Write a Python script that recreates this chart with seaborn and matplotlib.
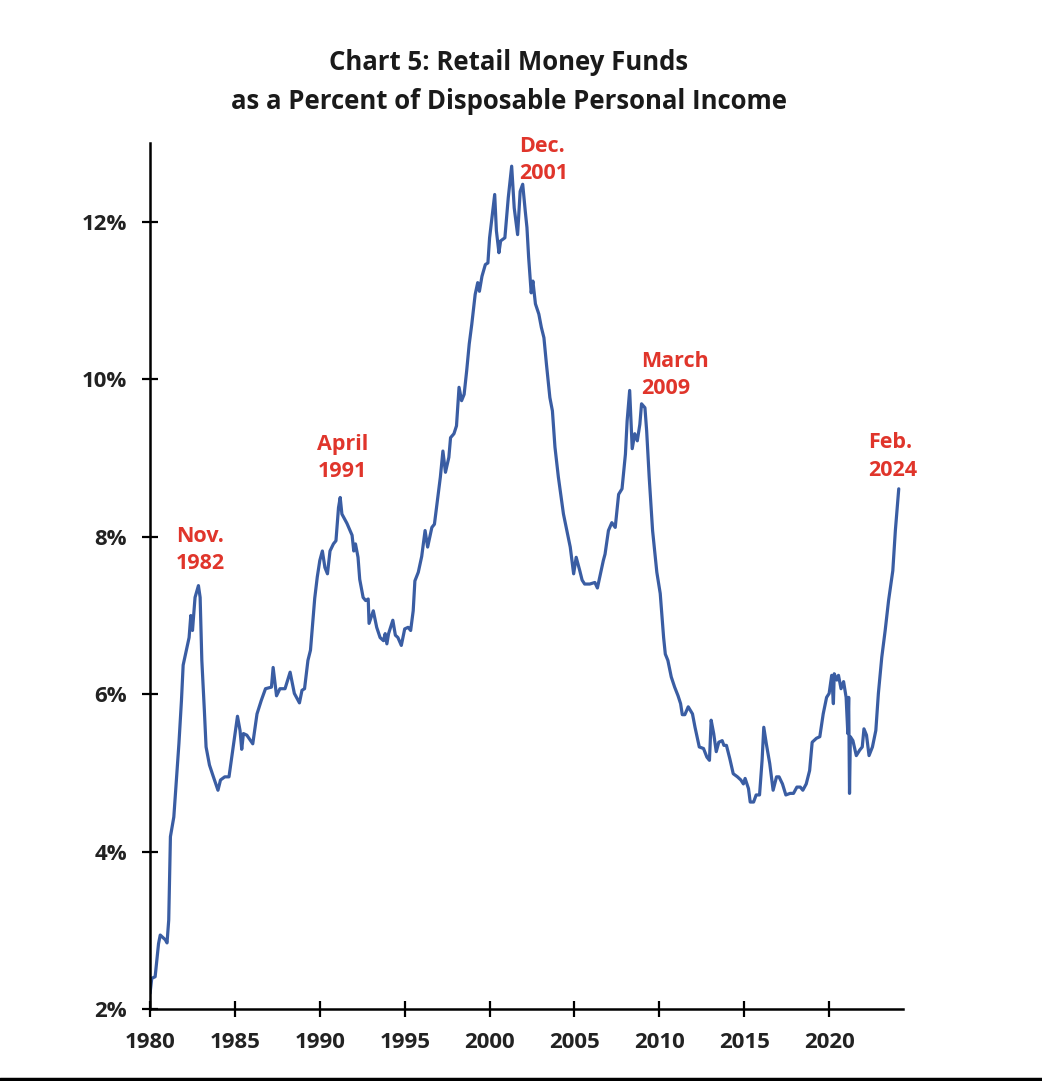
import pandas as pd
import matplotlib
matplotlib.use('Agg')
import matplotlib.pyplot as plt
import seaborn as sns
from matplotlib.lines import Line2D

# values (decimal year, % of disposable personal income)
years = [
    1980.0, 1980.1, 1980.3, 1980.5, 1980.6, 1980.9, 1981.0, 1981.1, 1981.2, 1981.4,
    1981.7, 1981.85, 1981.95, 1982.1, 1982.3, 1982.4, 1982.5, 1982.65, 1982.85, 1982.95,
    1983.05, 1983.2, 1983.3, 1983.5, 1983.7, 1984.0, 1984.15, 1984.4, 1984.65, 1984.9,
    1985.15, 1985.3, 1985.4, 1985.5, 1985.7, 1986.05, 1986.3, 1986.55, 1986.8, 1987.15,
    1987.25, 1987.45, 1987.65, 1987.95, 1988.25, 1988.5, 1988.8, 1988.95, 1989.1, 1989.3,
    1989.45, 1989.7, 1989.85, 1990.0, 1990.15, 1990.3, 1990.45, 1990.6, 1990.8, 1990.95,
    1991.1, 1991.2, 1991.3, 1991.6, 1991.9, 1992.0, 1992.1, 1992.25, 1992.35, 1992.55,
    1992.7, 1992.85, 1992.9, 1993.15, 1993.35, 1993.55, 1993.75, 1993.85, 1993.95, 1994.05,
    1994.3, 1994.45, 1994.6, 1994.8, 1995.0, 1995.2, 1995.35, 1995.5, 1995.6, 1995.8,
    1996.0, 1996.2, 1996.35, 1996.6, 1996.75, 1996.9, 1997.1, 1997.25, 1997.4, 1997.6,
    1997.7, 1997.9, 1998.05, 1998.2, 1998.35, 1998.5, 1998.65, 1998.8, 1998.95, 1999.15,
    1999.3, 1999.4, 1999.55, 1999.75, 1999.9, 2000.0, 2000.15, 2000.3, 2000.4, 2000.55,
    2000.65, 2000.9, 2001.1, 2001.3, 2001.45, 2001.65, 2001.8, 2001.95, 2002.1, 2002.2,
    2002.3, 2002.45, 2002.55, 2002.7, 2002.9, 2003.05, 2003.2, 2003.35, 2003.55, 2003.7,
    2003.85, 2004.05, 2004.35, 2004.55, 2004.75, 2004.85, 2004.95, 2005.1, 2005.3, 2005.45,
    2005.6, 2005.9, 2006.2, 2006.35, 2006.5, 2006.7, 2006.8, 2007.0, 2007.2, 2007.4,
    2007.6, 2007.8, 2008.0, 2008.1, 2008.15, 2008.25, 2008.4, 2008.55, 2008.7, 2008.85,
    2008.95, 2009.15, 2009.25, 2009.4, 2009.6, 2009.85, 2010.05, 2010.25, 2010.35, 2010.5,
    2010.7, 2010.9, 2011.1, 2011.25, 2011.35, 2011.5, 2011.7, 2011.95, 2012.1, 2012.35,
    2012.6, 2012.8, 2012.95, 2013.05, 2013.2, 2013.35, 2013.5, 2013.7, 2013.8, 2013.95,
    2014.15, 2014.35, 2014.6, 2014.8, 2014.95, 2015.05, 2015.25, 2015.35, 2015.55, 2015.7,
    2015.9, 2016.05, 2016.15, 2016.3, 2016.5, 2016.7, 2016.9, 2017.05, 2017.25, 2017.45,
    2017.7, 2017.9, 2018.1, 2018.3, 2018.45, 2018.65, 2018.85, 2019.0, 2019.25, 2019.45,
    2019.65, 2019.85, 2020.0, 2020.15, 2020.25, 2020.3, 2020.45, 2020.55, 2020.7, 2020.85,
    2021.0, 2021.1, 2021.15, 2021.2, 2021.25, 2021.4, 2021.6, 2021.8, 2021.95, 2022.05,
    2022.2, 2022.35, 2022.55, 2022.75, 2022.9, 2023.1, 2023.3, 2023.5, 2023.75, 2023.9,
    2024.1,
]
pct = [
    2.20, 2.39, 2.41, 2.83, 2.94, 2.88, 2.84, 3.13, 4.19, 4.44,
    5.37, 5.92, 6.37, 6.52, 6.72, 7.00, 6.81, 7.23, 7.38, 7.23,
    6.43, 5.79, 5.33, 5.10, 4.97, 4.78, 4.91, 4.95, 4.95, 5.33,
    5.72, 5.54, 5.30, 5.50, 5.48, 5.37, 5.75, 5.92, 6.07, 6.09,
    6.34, 5.98, 6.07, 6.07, 6.28, 6.01, 5.89, 6.05, 6.07, 6.43,
    6.56, 7.22, 7.49, 7.70, 7.82, 7.61, 7.53, 7.82, 7.91, 7.95,
    8.37, 8.50, 8.29, 8.17, 8.02, 7.82, 7.91, 7.74, 7.46, 7.23,
    7.19, 7.21, 6.90, 7.06, 6.85, 6.72, 6.68, 6.77, 6.64, 6.77,
    6.94, 6.75, 6.72, 6.62, 6.83, 6.85, 6.81, 7.06, 7.44, 7.55,
    7.75, 8.08, 7.87, 8.12, 8.16, 8.42, 8.76, 9.09, 8.82, 9.01,
    9.26, 9.31, 9.41, 9.90, 9.73, 9.81, 10.11, 10.45, 10.70, 11.08,
    11.23, 11.12, 11.31, 11.46, 11.48, 11.80, 12.08, 12.35, 11.89, 11.61,
    11.76, 11.80, 12.31, 12.71, 12.18, 11.84, 12.39, 12.48, 12.14, 11.93,
    11.55, 11.10, 11.25, 10.96, 10.83, 10.66, 10.53, 10.19, 9.77, 9.60,
    9.14, 8.76, 8.29, 8.08, 7.87, 7.70, 7.53, 7.74, 7.58, 7.45,
    7.40, 7.40, 7.42, 7.35, 7.50, 7.70, 7.78, 8.08, 8.18, 8.12,
    8.54, 8.61, 9.05, 9.47, 9.60, 9.86, 9.12, 9.31, 9.22, 9.43,
    9.69, 9.64, 9.35, 8.76, 8.08, 7.55, 7.28, 6.72, 6.51, 6.43,
    6.22, 6.09, 5.98, 5.88, 5.74, 5.74, 5.84, 5.75, 5.58, 5.33,
    5.31, 5.20, 5.16, 5.67, 5.50, 5.27, 5.39, 5.41, 5.35, 5.35,
    5.18, 4.99, 4.95, 4.91, 4.86, 4.93, 4.80, 4.63, 4.63, 4.72,
    4.72, 5.16, 5.58, 5.37, 5.12, 4.78, 4.95, 4.95, 4.86, 4.72,
    4.74, 4.74, 4.82, 4.82, 4.78, 4.86, 5.03, 5.39, 5.44, 5.46,
    5.75, 5.96, 6.01, 6.24, 5.88, 6.26, 6.18, 6.24, 6.07, 6.16,
    5.96, 5.50, 5.96, 4.74, 5.46, 5.41, 5.22, 5.29, 5.33, 5.56,
    5.48, 5.22, 5.33, 5.54, 6.01, 6.47, 6.81, 7.19, 7.57, 8.08,
    8.61,
]

# peak callouts
peak_labels = ['Nov.\n1982', 'April\n1991', 'Dec.\n2001', 'March\n2009', 'Feb.\n2024']
peak_x = [1981.53, 1989.86, 2001.75, 2008.95, 2022.3]
peak_y = [7.83, 9.0, 12.79, 10.06, 9.02]

year_ticks = [1980, 1985, 1990, 1995, 2000, 2005, 2010, 2015, 2020]
pct_ticks = [2, 4, 6, 8, 10, 12]

df = pd.DataFrame({'year': years, 'pct': pct})

sns.set_style('white')
plt.rcParams['font.family'] = ['Open Sans', 'DejaVu Sans']
plt.rcParams['font.weight'] = 'bold'

fig = plt.figure(figsize=(10.42, 10.81), dpi=100)
ax = fig.add_axes([0.144, 0.0666, 0.7226, 0.8008])

sns.lineplot(data=df, x='year', y='pct', sort=False, estimator=None,
             color='#3A5DA3', linewidth=2.3, ax=ax)

ax.set_xlim(1980, 2024.35)
ax.set_ylim(2, 13)
ax.set_xticks(year_ticks)
ax.set_xticklabels([str(y) for y in year_ticks])
ax.set_yticks(pct_ticks)
ax.set_yticklabels([f'{p}%' for p in pct_ticks])
ax.set_xlabel('')
ax.set_ylabel('')

for side in ['top', 'right']:
    ax.spines[side].set_visible(False)
for side in ['left', 'bottom']:
    ax.spines[side].set_linewidth(1.8)
    ax.spines[side].set_color('black')

ax.tick_params(axis='both', which='major', bottom=True, left=True,
               direction='inout', length=11, width=1.6,
               color='black', labelsize=16, labelcolor='#222222', pad=11)
for lbl in ax.get_xticklabels() + ax.get_yticklabels():
    lbl.set_fontweight('bold')

for txt, px, py in zip(peak_labels, peak_x, peak_y):
    ax.text(px, py, txt, ha='left', va='center', color='#E0352B',
            fontsize=15.5, fontweight='bold', linespacing=1.4)

fig.text(0.4885, 0.924, 'Chart 5: Retail Money Funds\nas a Percent of Disposable Personal Income',
         ha='center', va='center', fontsize=18.5, fontweight='bold',
         color='#1a1a1a', linespacing=1.55)

# black rule along the bottom edge of the screenshot
fig.add_artist(Line2D([0, 1], [0.0015, 0.0015], transform=fig.transFigure,
                      color='black', linewidth=2.5))

fig.savefig('out.png', dpi=100)
